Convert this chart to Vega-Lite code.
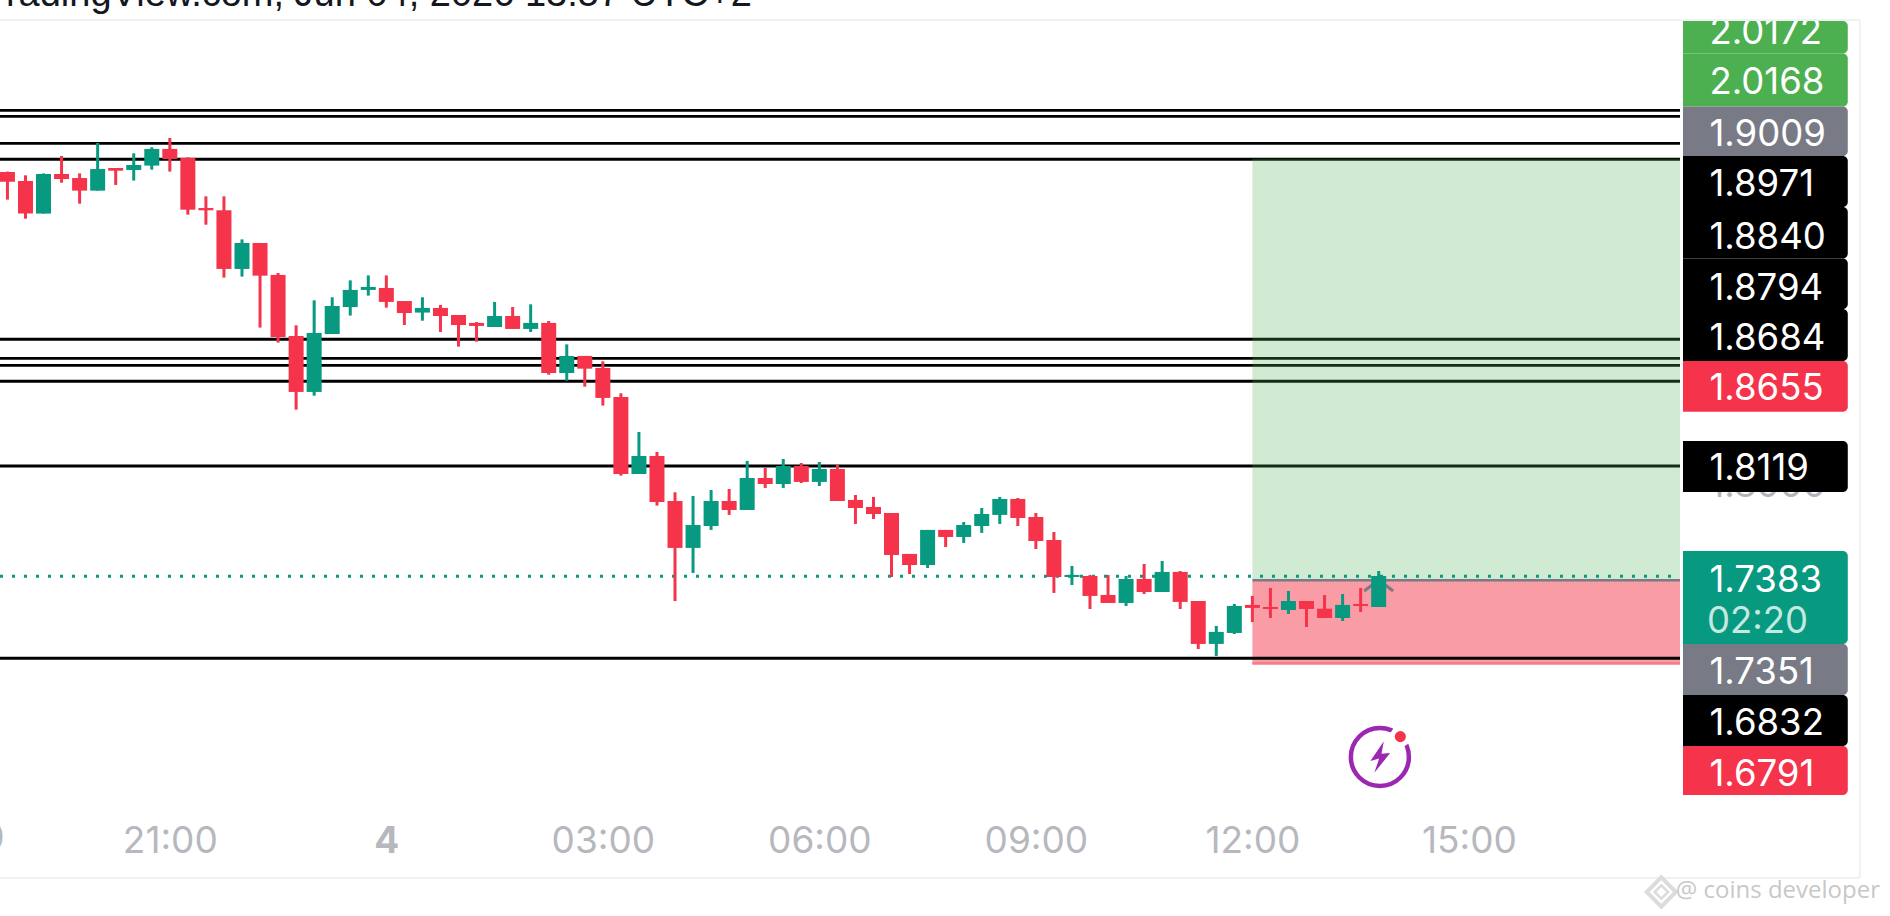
{"$schema":"https://vega.github.io/schema/vega-lite/v6.json","width":1890,"height":916,"padding":0,"autosize":{"type":"none"},"background":"#ffffff","config":{"view":{"stroke":null}},
"datasets":{
"candles":[
{"t":"2026-06-03T18:45:00Z","hi":2.0074,"top":2.0071,"bot":2.0007,"lo":1.9887,"dir":"down"},
{"t":"2026-06-03T19:00:00Z","hi":2.0049,"top":2.0011,"bot":1.9794,"lo":1.9760,"dir":"down"},
{"t":"2026-06-03T19:15:00Z","hi":2.0062,"top":2.0058,"bot":1.9794,"lo":1.9794,"dir":"up"},
{"t":"2026-06-03T19:30:00Z","hi":2.0178,"top":2.0058,"bot":2.0025,"lo":2.0000,"dir":"down"},
{"t":"2026-06-03T19:45:00Z","hi":2.0062,"top":2.0031,"bot":1.9947,"lo":1.9860,"dir":"down"},
{"t":"2026-06-03T20:00:00Z","hi":2.0265,"top":2.0091,"bot":1.9947,"lo":1.9947,"dir":"up"},
{"t":"2026-06-03T20:15:00Z","hi":2.0098,"top":2.0098,"bot":2.0080,"lo":1.9985,"dir":"down"},
{"t":"2026-06-03T20:30:00Z","hi":2.0196,"top":2.0118,"bot":2.0085,"lo":2.0014,"dir":"up"},
{"t":"2026-06-03T20:45:00Z","hi":2.0236,"top":2.0225,"bot":2.0114,"lo":2.0087,"dir":"up"},
{"t":"2026-06-03T21:00:00Z","hi":2.0298,"top":2.0225,"bot":2.0158,"lo":2.0074,"dir":"down"},
{"t":"2026-06-03T21:15:00Z","hi":2.0169,"top":2.0165,"bot":1.9820,"lo":1.9787,"dir":"down"},
{"t":"2026-06-03T21:30:00Z","hi":1.9909,"top":1.9831,"bot":1.9816,"lo":1.9720,"dir":"down"},
{"t":"2026-06-03T21:45:00Z","hi":1.9909,"top":1.9816,"bot":1.9425,"lo":1.9367,"dir":"down"},
{"t":"2026-06-03T22:00:00Z","hi":1.9622,"top":1.9598,"bot":1.9425,"lo":1.9374,"dir":"up"},
{"t":"2026-06-03T22:15:00Z","hi":1.9598,"top":1.9598,"bot":1.9380,"lo":1.9034,"dir":"down"},
{"t":"2026-06-03T22:30:00Z","hi":1.9398,"top":1.9385,"bot":1.8971,"lo":1.8934,"dir":"down"},
{"t":"2026-06-03T22:45:00Z","hi":1.9049,"top":1.8978,"bot":1.8605,"lo":1.8487,"dir":"down"},
{"t":"2026-06-03T23:00:00Z","hi":1.9216,"top":1.8998,"bot":1.8605,"lo":1.8580,"dir":"up"},
{"t":"2026-06-03T23:15:00Z","hi":1.9236,"top":1.9178,"bot":1.8991,"lo":1.8991,"dir":"up"},
{"t":"2026-06-03T23:30:00Z","hi":1.9349,"top":1.9285,"bot":1.9171,"lo":1.9114,"dir":"up"},
{"t":"2026-06-03T23:45:00Z","hi":1.9382,"top":1.9305,"bot":1.9285,"lo":1.9247,"dir":"up"},
{"t":"2026-06-04T00:00:00Z","hi":1.9382,"top":1.9298,"bot":1.9205,"lo":1.9167,"dir":"down"},
{"t":"2026-06-04T00:15:00Z","hi":1.9211,"top":1.9211,"bot":1.9131,"lo":1.9051,"dir":"down"},
{"t":"2026-06-04T00:30:00Z","hi":1.9236,"top":1.9165,"bot":1.9134,"lo":1.9080,"dir":"up"},
{"t":"2026-06-04T00:45:00Z","hi":1.9185,"top":1.9165,"bot":1.9111,"lo":1.9005,"dir":"down"},
{"t":"2026-06-04T01:00:00Z","hi":1.9118,"top":1.9118,"bot":1.9051,"lo":1.8907,"dir":"down"},
{"t":"2026-06-04T01:15:00Z","hi":1.9071,"top":1.9065,"bot":1.9045,"lo":1.8940,"dir":"down"},
{"t":"2026-06-04T01:30:00Z","hi":1.9205,"top":1.9111,"bot":1.9038,"lo":1.9038,"dir":"up"},
{"t":"2026-06-04T01:45:00Z","hi":1.9171,"top":1.9111,"bot":1.9025,"lo":1.9025,"dir":"down"},
{"t":"2026-06-04T02:00:00Z","hi":1.9189,"top":1.9065,"bot":1.9025,"lo":1.9005,"dir":"up"},
{"t":"2026-06-04T02:15:00Z","hi":1.9078,"top":1.9065,"bot":1.8731,"lo":1.8720,"dir":"down"},
{"t":"2026-06-04T02:30:00Z","hi":1.8922,"top":1.8845,"bot":1.8731,"lo":1.8680,"dir":"up"},
{"t":"2026-06-04T02:45:00Z","hi":1.8845,"top":1.8845,"bot":1.8760,"lo":1.8640,"dir":"down"},
{"t":"2026-06-04T03:00:00Z","hi":1.8809,"top":1.8765,"bot":1.8565,"lo":1.8514,"dir":"down"},
{"t":"2026-06-04T03:15:00Z","hi":1.8596,"top":1.8571,"bot":1.8058,"lo":1.8047,"dir":"down"},
{"t":"2026-06-04T03:30:00Z","hi":1.8338,"top":1.8178,"bot":1.8058,"lo":1.8058,"dir":"up"},
{"t":"2026-06-04T03:45:00Z","hi":1.8205,"top":1.8178,"bot":1.7871,"lo":1.7847,"dir":"down"},
{"t":"2026-06-04T04:00:00Z","hi":1.7936,"top":1.7878,"bot":1.7565,"lo":1.7211,"dir":"down"},
{"t":"2026-06-04T04:15:00Z","hi":1.7911,"top":1.7718,"bot":1.7565,"lo":1.7398,"dir":"up"},
{"t":"2026-06-04T04:30:00Z","hi":1.7951,"top":1.7878,"bot":1.7711,"lo":1.7685,"dir":"up"},
{"t":"2026-06-04T04:45:00Z","hi":1.7958,"top":1.7878,"bot":1.7818,"lo":1.7785,"dir":"down"},
{"t":"2026-06-04T05:00:00Z","hi":1.8145,"top":1.8031,"bot":1.7818,"lo":1.7818,"dir":"up"},
{"t":"2026-06-04T05:15:00Z","hi":1.8098,"top":1.8031,"bot":1.7991,"lo":1.7965,"dir":"down"},
{"t":"2026-06-04T05:30:00Z","hi":1.8158,"top":1.8111,"bot":1.7991,"lo":1.7965,"dir":"up"},
{"t":"2026-06-04T05:45:00Z","hi":1.8131,"top":1.8111,"bot":1.8005,"lo":1.7998,"dir":"down"},
{"t":"2026-06-04T06:00:00Z","hi":1.8138,"top":1.8091,"bot":1.8005,"lo":1.7978,"dir":"up"},
{"t":"2026-06-04T06:15:00Z","hi":1.8118,"top":1.8091,"bot":1.7878,"lo":1.7878,"dir":"down"},
{"t":"2026-06-04T06:30:00Z","hi":1.7918,"top":1.7885,"bot":1.7831,"lo":1.7725,"dir":"down"},
{"t":"2026-06-04T06:45:00Z","hi":1.7905,"top":1.7838,"bot":1.7791,"lo":1.7758,"dir":"down"},
{"t":"2026-06-04T07:00:00Z","hi":1.7798,"top":1.7798,"bot":1.7518,"lo":1.7371,"dir":"down"},
{"t":"2026-06-04T07:15:00Z","hi":1.7525,"top":1.7525,"bot":1.7451,"lo":1.7391,"dir":"down"},
{"t":"2026-06-04T07:30:00Z","hi":1.7685,"top":1.7685,"bot":1.7451,"lo":1.7431,"dir":"up"},
{"t":"2026-06-04T07:45:00Z","hi":1.7685,"top":1.7685,"bot":1.7638,"lo":1.7571,"dir":"down"},
{"t":"2026-06-04T08:00:00Z","hi":1.7738,"top":1.7718,"bot":1.7638,"lo":1.7598,"dir":"up"},
{"t":"2026-06-04T08:15:00Z","hi":1.7831,"top":1.7791,"bot":1.7711,"lo":1.7665,"dir":"up"},
{"t":"2026-06-04T08:30:00Z","hi":1.7905,"top":1.7891,"bot":1.7785,"lo":1.7725,"dir":"up"},
{"t":"2026-06-04T08:45:00Z","hi":1.7898,"top":1.7891,"bot":1.7765,"lo":1.7711,"dir":"down"},
{"t":"2026-06-04T09:00:00Z","hi":1.7798,"top":1.7771,"bot":1.7611,"lo":1.7558,"dir":"down"},
{"t":"2026-06-04T09:15:00Z","hi":1.7671,"top":1.7618,"bot":1.7371,"lo":1.7265,"dir":"down"},
{"t":"2026-06-04T09:30:00Z","hi":1.7445,"top":1.7385,"bot":1.7371,"lo":1.7318,"dir":"up"},
{"t":"2026-06-04T09:45:00Z","hi":1.7385,"top":1.7378,"bot":1.7245,"lo":1.7158,"dir":"down"},
{"t":"2026-06-04T10:00:00Z","hi":1.7385,"top":1.7251,"bot":1.7198,"lo":1.7198,"dir":"down"},
{"t":"2026-06-04T10:15:00Z","hi":1.7378,"top":1.7358,"bot":1.7198,"lo":1.7178,"dir":"up"},
{"t":"2026-06-04T10:30:00Z","hi":1.7458,"top":1.7358,"bot":1.7271,"lo":1.7258,"dir":"down"},
{"t":"2026-06-04T10:45:00Z","hi":1.7478,"top":1.7405,"bot":1.7271,"lo":1.7271,"dir":"up"},
{"t":"2026-06-04T11:00:00Z","hi":1.7411,"top":1.7405,"bot":1.7205,"lo":1.7158,"dir":"down"},
{"t":"2026-06-04T11:15:00Z","hi":1.7211,"top":1.7211,"bot":1.6925,"lo":1.6891,"dir":"down"},
{"t":"2026-06-04T11:30:00Z","hi":1.7045,"top":1.7005,"bot":1.6925,"lo":1.6845,"dir":"up"},
{"t":"2026-06-04T11:45:00Z","hi":1.7191,"top":1.7178,"bot":1.6998,"lo":1.6991,"dir":"up"},
{"t":"2026-06-04T12:00:00Z","hi":1.7245,"top":1.7185,"bot":1.7165,"lo":1.7071,"dir":"down"},
{"t":"2026-06-04T12:15:00Z","hi":1.7298,"top":1.7171,"bot":1.7158,"lo":1.7098,"dir":"down"},
{"t":"2026-06-04T12:30:00Z","hi":1.7278,"top":1.7211,"bot":1.7151,"lo":1.7125,"dir":"up"},
{"t":"2026-06-04T12:45:00Z","hi":1.7211,"top":1.7211,"bot":1.7158,"lo":1.7038,"dir":"down"},
{"t":"2026-06-04T13:00:00Z","hi":1.7251,"top":1.7160,"bot":1.7098,"lo":1.7098,"dir":"down"},
{"t":"2026-06-04T13:15:00Z","hi":1.7258,"top":1.7185,"bot":1.7098,"lo":1.7078,"dir":"up"},
{"t":"2026-06-04T13:30:00Z","hi":1.7298,"top":1.7191,"bot":1.7178,"lo":1.7138,"dir":"down"},
{"t":"2026-06-04T13:45:00Z","hi":1.7411,"top":1.7378,"bot":1.7171,"lo":1.7171,"dir":"up"}
],
"levels":[
{"t":"2026-06-03T18:38:49Z","t2":"2026-06-04T17:55:30Z","p":2.0482},
{"t":"2026-06-03T18:38:49Z","t2":"2026-06-04T17:55:30Z","p":2.0442},
{"t":"2026-06-03T18:38:49Z","t2":"2026-06-04T17:55:30Z","p":2.0262},
{"t":"2026-06-03T18:38:49Z","t2":"2026-06-04T17:55:30Z","p":2.0156},
{"t":"2026-06-03T18:38:49Z","t2":"2026-06-04T17:55:30Z","p":1.8956},
{"t":"2026-06-03T18:38:49Z","t2":"2026-06-04T17:55:30Z","p":1.8829},
{"t":"2026-06-03T18:38:49Z","t2":"2026-06-04T17:55:30Z","p":1.8782},
{"t":"2026-06-03T18:38:49Z","t2":"2026-06-04T17:55:30Z","p":1.8676},
{"t":"2026-06-03T18:38:49Z","t2":"2026-06-04T17:55:30Z","p":1.8111},
{"t":"2026-06-03T18:38:49Z","t2":"2026-06-04T17:55:30Z","p":1.6829}
],
"labels":[
{"t":"2026-06-04T17:58:00Z","t2":"2026-06-04T20:15:00Z","pTop":2.1078,"pBot":2.0862,"kind":"target"},
{"t":"2026-06-04T17:58:00Z","t2":"2026-06-04T20:15:00Z","pTop":2.0862,"pBot":2.0508,"kind":"target"},
{"t":"2026-06-04T17:58:00Z","t2":"2026-06-04T20:15:00Z","pTop":2.0508,"pBot":2.0178,"kind":"entry"},
{"t":"2026-06-04T17:58:00Z","t2":"2026-06-04T20:15:00Z","pTop":2.0178,"pBot":1.9838,"kind":"level"},
{"t":"2026-06-04T17:58:00Z","t2":"2026-06-04T20:15:00Z","pTop":1.9838,"pBot":1.9494,"kind":"level"},
{"t":"2026-06-04T17:58:00Z","t2":"2026-06-04T20:15:00Z","pTop":1.9494,"pBot":1.9158,"kind":"level"},
{"t":"2026-06-04T17:58:00Z","t2":"2026-06-04T20:15:00Z","pTop":1.9158,"pBot":1.8811,"kind":"level"},
{"t":"2026-06-04T17:58:00Z","t2":"2026-06-04T20:15:00Z","pTop":1.8811,"pBot":1.8473,"kind":"stop"},
{"t":"2026-06-04T17:58:00Z","t2":"2026-06-04T20:15:00Z","pTop":1.8278,"pBot":1.7938,"kind":"level"},
{"t":"2026-06-04T17:58:00Z","t2":"2026-06-04T20:15:00Z","pTop":1.7545,"pBot":1.6925,"kind":"price"},
{"t":"2026-06-04T17:58:00Z","t2":"2026-06-04T20:15:00Z","pTop":1.6925,"pBot":1.6585,"kind":"entry"},
{"t":"2026-06-04T17:58:00Z","t2":"2026-06-04T20:15:00Z","pTop":1.6585,"pBot":1.6245,"kind":"level"},
{"t":"2026-06-04T17:58:00Z","t2":"2026-06-04T20:15:00Z","pTop":1.6245,"pBot":1.5918,"kind":"stop"}
],
"labelText":[
{"t":"2026-06-04T18:20:00Z","p":2.0998,"text":"2.0172","kind":"main"},
{"t":"2026-06-04T18:20:00Z","p":2.0665,"text":"2.0168","kind":"main"},
{"t":"2026-06-04T18:20:00Z","p":2.0315,"text":"1.9009","kind":"main"},
{"t":"2026-06-04T18:20:00Z","p":1.9982,"text":"1.8971","kind":"main"},
{"t":"2026-06-04T18:20:00Z","p":1.9633,"text":"1.8840","kind":"main"},
{"t":"2026-06-04T18:20:00Z","p":1.9294,"text":"1.8794","kind":"main"},
{"t":"2026-06-04T18:20:00Z","p":1.8961,"text":"1.8684","kind":"main"},
{"t":"2026-06-04T18:20:00Z","p":1.8627,"text":"1.8655","kind":"main"},
{"t":"2026-06-04T18:20:00Z","p":1.8091,"text":"1.8119","kind":"main"},
{"t":"2026-06-04T18:20:00Z","p":1.7345,"text":"1.7383","kind":"main"},
{"t":"2026-06-04T18:18:00Z","p":1.7071,"text":"02:20","kind":"sub"},
{"t":"2026-06-04T18:20:00Z","p":1.6731,"text":"1.7351","kind":"main"},
{"t":"2026-06-04T18:20:00Z","p":1.6391,"text":"1.6832","kind":"main"},
{"t":"2026-06-04T18:20:00Z","p":1.6051,"text":"1.6791","kind":"main"}
]
},
"encoding":{"x":{"field":"t","type":"temporal","title":null,"scale":{"type":"utc","nice":false,"padding":0,"domain":[{"year":2026,"month":6,"date":3,"hours":18,"minutes":38,"seconds":49,"utc":true},{"year":2026,"month":6,"date":4,"hours":20,"minutes":50,"seconds":6,"utc":true}]},
"axis":{"values":[{"year":2026,"month":6,"date":3,"hours":21,"utc":true},{"year":2026,"month":6,"date":4,"hours":0,"utc":true},{"year":2026,"month":6,"date":4,"hours":3,"utc":true},{"year":2026,"month":6,"date":4,"hours":6,"utc":true},{"year":2026,"month":6,"date":4,"hours":9,"utc":true},{"year":2026,"month":6,"date":4,"hours":12,"utc":true},{"year":2026,"month":6,"date":4,"hours":15,"utc":true}],"labelExpr":"utchours(datum.value)==0?'4':utcFormat(datum.value,'%H:%M')","labelFontWeight":{"condition":{"test":"utchours(datum.value)==0","value":"bold"},"value":"normal"},"offset":-75,"labelPadding":0,"labelBaseline":"middle","labelFont":"Inter","labelFontSize":37,"labelColor":"#b6b8be","labelOverlap":false,"labelFlush":false,"ticks":false,"domain":false,"grid":false,"zindex":1}}},
"layer":[
{"data":{"values":[{"t":"2026-06-04T12:00:00Z","t2":"2026-06-04T17:55:30Z","pTop":1.7345,"pBot":1.6785}]},"mark":{"type":"rect","color":"#f99ca6"},"encoding":{"x2":{"field":"t2"},"y":{"field":"pTop","type":"quantitative","axis":null,"scale":{"domain":[1.5111,2.1218],"nice":false,"zero":false}},"y2":{"field":"pBot"}}},
{"data":{"name":"levels"},"mark":{"type":"rule","color":"#000000","strokeWidth":2.9},"encoding":{"x2":{"field":"t2"},"y":{"field":"p","type":"quantitative","axis":null,"scale":{"domain":[1.5111,2.1218],"nice":false,"zero":false}}}},
{"data":{"values":[{"t":"2026-06-04T12:00:00Z","t2":"2026-06-04T17:55:30Z","pTop":2.0160,"pBot":1.7355}]},"mark":{"type":"rect","color":"#4caf50","opacity":0.26},"encoding":{"x2":{"field":"t2"},"y":{"field":"pTop","type":"quantitative","axis":null,"scale":{"domain":[1.5111,2.1218],"nice":false,"zero":false}},"y2":{"field":"pBot"}}},
{"data":{"values":[{"t":"2026-06-04T12:00:00Z","t2":"2026-06-04T17:55:30Z","p":1.6798}]},"mark":{"type":"rule","color":"#f7707f","strokeWidth":1.5},"encoding":{"x2":{"field":"t2"},"y":{"field":"p","type":"quantitative","axis":null,"scale":{"domain":[1.5111,2.1218],"nice":false,"zero":false}}}},
{"data":{"values":[{"t":"2026-06-04T12:00:00Z","t2":"2026-06-04T17:55:30Z","p":1.7349}]},"mark":{"type":"rule","color":"#787b86","strokeWidth":2.5},"encoding":{"x2":{"field":"t2"},"y":{"field":"p","type":"quantitative","axis":null,"scale":{"domain":[1.5111,2.1218],"nice":false,"zero":false}}}},
{"data":{"values":[{"t":"2026-06-03T18:38:49Z","t2":"2026-06-04T17:55:30Z","p":1.7376}]},"mark":{"type":"rule","color":"#089981","strokeWidth":3,"strokeDash":[3,9]},"encoding":{"x2":{"field":"t2"},"y":{"field":"p","type":"quantitative","axis":null,"scale":{"domain":[1.5111,2.1218],"nice":false,"zero":false}}}},
{"data":{"values":[{"t":"2026-06-04T13:45:00Z","p":1.7278}]},"mark":{"type":"point","shape":"M-1,0 L0,-0.76 L1,0","filled":false,"color":"#787b86","strokeWidth":3,"size":841,"opacity":1},"encoding":{"y":{"field":"p","type":"quantitative","axis":null,"scale":{"domain":[1.5111,2.1218],"nice":false,"zero":false}}}},
{"data":{"name":"candles"},"mark":{"type":"rule","strokeWidth":3},"encoding":{"y":{"field":"hi","type":"quantitative","axis":null,"scale":{"domain":[1.5111,2.1218],"nice":false,"zero":false}},"y2":{"field":"lo"},"color":{"field":"dir","type":"nominal","legend":null,"scale":{"domain":["up","down"],"range":["#089981","#f5334a"]}}}},
{"data":{"name":"candles"},"mark":{"type":"bar","size":15},"encoding":{"y":{"field":"top","type":"quantitative","axis":null,"stack":null,"scale":{"domain":[1.5111,2.1218],"nice":false,"zero":false}},"y2":{"field":"bot"},"color":{"field":"dir","type":"nominal","legend":null,"scale":{"domain":["up","down"],"range":["#089981","#f5334a"]}}}},
{"data":{"values":[{"t":"2026-06-04T18:20:00Z","p":1.7978,"text":"1.8000"}]},"mark":{"type":"text","align":"left","baseline":"middle","font":"Inter","fontSize":36.5,"color":"#b4b6bc"},"encoding":{"y":{"field":"p","type":"quantitative","axis":null,"scale":{"domain":[1.5111,2.1218],"nice":false,"zero":false}},"text":{"field":"text"}}},
{"data":{"name":"labels"},"mark":{"type":"rect","cornerRadiusTopRight":5,"cornerRadiusBottomRight":5},"encoding":{"x2":{"field":"t2"},"y":{"field":"pTop","type":"quantitative","axis":null,"scale":{"domain":[1.5111,2.1218],"nice":false,"zero":false}},"y2":{"field":"pBot"},"color":{"field":"kind","type":"nominal","legend":null,"scale":{"domain":["target","entry","level","stop","price"],"range":["#4caf50","#787b86","#000000","#f5334a","#089981"]}}}},
{"data":{"name":"labelText"},"mark":{"type":"text","align":"left","baseline":"middle","font":"Inter","fontSize":36.5},"encoding":{"y":{"field":"p","type":"quantitative","axis":null,"scale":{"domain":[1.5111,2.1218],"nice":false,"zero":false}},"text":{"field":"text"},"color":{"field":"kind","type":"nominal","legend":null,"scale":{"domain":["main","sub"],"range":["#ffffff","#c4e9e1"]}}}},
{"data":{"values":[{"t":"2026-06-04T17:50:00Z","t2":"2026-06-04T20:50:06Z","pTop":2.1218,"pBot":2.1085}]},"mark":{"type":"rect","color":"#ffffff"},"encoding":{"x2":{"field":"t2"},"y":{"field":"pTop","type":"quantitative","axis":null,"scale":{"domain":[1.5111,2.1218],"nice":false,"zero":false}},"y2":{"field":"pBot"}}},
{"data":{"values":[{"t":"2026-06-03T18:38:49Z","t2":"2026-06-04T20:25:00Z","p":2.1085},{"t":"2026-06-03T18:38:49Z","t2":"2026-06-04T20:25:00Z","p":1.5365}]},"mark":{"type":"rule","color":"#f1f1f3","strokeWidth":2},"encoding":{"x2":{"field":"t2"},"y":{"field":"p","type":"quantitative","axis":null,"scale":{"domain":[1.5111,2.1218],"nice":false,"zero":false}}}},
{"data":{"values":[{"t":"2026-06-04T20:25:00Z","p":2.1085,"p2":1.5365}]},"mark":{"type":"rule","color":"#f1f1f3","strokeWidth":2},"encoding":{"y":{"field":"p","type":"quantitative","axis":null,"scale":{"domain":[1.5111,2.1218],"nice":false,"zero":false}},"y2":{"field":"p2"}}},
{"data":{"values":[{"t":"2026-06-04T05:04:00Z","p":2.1178,"text":"TradingView.com, Jun 04, 2026 13:57 UTC+2"}]},"mark":{"type":"text","align":"right","baseline":"alphabetic","font":"Liberation Sans","fontSize":38,"color":"#131722","clip":true},"encoding":{"y":{"field":"p","type":"quantitative","axis":null,"scale":{"domain":[1.5111,2.1218],"nice":false,"zero":false}},"text":{"field":"text"}}},
{"data":{"values":[{"t":"2026-06-03T18:03:00Z","p":1.5627,"text":"18:00"}]},"mark":{"type":"text","align":"center","baseline":"middle","font":"Inter","fontSize":37,"color":"#b6b8be","clip":true},"encoding":{"y":{"field":"p","type":"quantitative","axis":null,"scale":{"domain":[1.5111,2.1218],"nice":false,"zero":false}},"text":{"field":"text"}}},
{"data":{"values":[{"t":"2026-06-04T13:46:00Z","p":1.6171}]},"mark":{"type":"point","shape":"circle","filled":false,"color":"#9c27b0","strokeWidth":4.5,"size":3364,"opacity":1},"encoding":{"y":{"field":"p","type":"quantitative","axis":null,"scale":{"domain":[1.5111,2.1218],"nice":false,"zero":false}}}},
{"data":{"values":[{"t":"2026-06-04T13:46:00Z","p":1.6171}]},"mark":{"type":"point","shape":"M0.25,-1 L-0.6,0.25 L-0.05,0.1 L-0.35,1 L0.65,-0.25 L0.1,-0.2 Z","filled":true,"color":"#9c27b0","size":1000,"opacity":1},"encoding":{"y":{"field":"p","type":"quantitative","axis":null,"scale":{"domain":[1.5111,2.1218],"nice":false,"zero":false}}}},
{"data":{"values":[{"t":"2026-06-04T14:03:00Z","p":1.6307}]},"mark":{"type":"point","shape":"circle","filled":true,"fill":"#f5334a","stroke":"#ffffff","strokeWidth":5,"size":260,"opacity":1},"encoding":{"y":{"field":"p","type":"quantitative","axis":null,"scale":{"domain":[1.5111,2.1218],"nice":false,"zero":false}}}},
{"data":{"values":[{"t":"2026-06-04T17:40:00Z","p":1.5271}]},"mark":{"type":"point","shape":"diamond","filled":false,"color":"#dcdcdc","strokeWidth":4,"size":850,"opacity":1},"encoding":{"y":{"field":"p","type":"quantitative","axis":null,"scale":{"domain":[1.5111,2.1218],"nice":false,"zero":false}}}},
{"data":{"values":[{"t":"2026-06-04T17:40:00Z","p":1.5271}]},"mark":{"type":"point","shape":"diamond","filled":false,"color":"#dcdcdc","strokeWidth":2.5,"size":180,"opacity":1},"encoding":{"y":{"field":"p","type":"quantitative","axis":null,"scale":{"domain":[1.5111,2.1218],"nice":false,"zero":false}}}},
{"data":{"values":[{"t":"2026-06-04T17:52:00Z","p":1.5278,"text":"@ coins developer"}]},"mark":{"type":"text","align":"left","baseline":"middle","font":"Open Sans","fontSize":24,"color":"#c8c8c8"},"encoding":{"y":{"field":"p","type":"quantitative","axis":null,"scale":{"domain":[1.5111,2.1218],"nice":false,"zero":false}},"text":{"field":"text"}}}
],
"resolve":{"scale":{"color":"independent"}}}
